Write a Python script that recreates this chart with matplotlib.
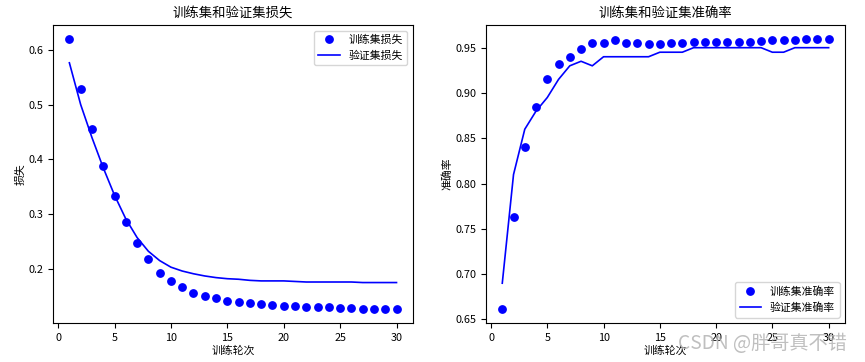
import matplotlib
matplotlib.use("Agg")
import matplotlib.pyplot as plt

plt.rcParams['font.family'] = ['Noto Sans CJK SC', 'DejaVu Sans']
plt.rcParams['axes.unicode_minus'] = False

epochs = list(range(1, 31))
train_loss = [0.620, 0.529, 0.455, 0.389, 0.334, 0.286, 0.248, 0.219, 0.194, 0.178,
              0.167, 0.157, 0.152, 0.147, 0.142, 0.141, 0.138, 0.137, 0.135, 0.133,
              0.133, 0.132, 0.131, 0.131, 0.130, 0.129, 0.128, 0.127, 0.127, 0.127]
val_loss = [0.576, 0.500, 0.440, 0.385, 0.335, 0.292, 0.258, 0.233, 0.216, 0.204,
            0.197, 0.192, 0.188, 0.185, 0.183, 0.182, 0.180, 0.179, 0.179, 0.179,
            0.178, 0.177, 0.177, 0.177, 0.177, 0.177, 0.176, 0.176, 0.176, 0.176]
train_acc = [0.661, 0.763, 0.8405, 0.885, 0.915, 0.932, 0.940, 0.9485, 0.955, 0.955,
             0.958, 0.955, 0.955, 0.954, 0.954, 0.955, 0.955, 0.956, 0.956, 0.956,
             0.956, 0.956, 0.956, 0.957, 0.958, 0.958, 0.958, 0.960, 0.960, 0.960]
val_acc = [0.690, 0.810, 0.860, 0.880, 0.895, 0.915, 0.930, 0.935, 0.930, 0.940,
           0.940, 0.940, 0.940, 0.940, 0.945, 0.945, 0.945, 0.950, 0.950, 0.950,
           0.950, 0.950, 0.950, 0.950, 0.945, 0.945, 0.950, 0.950, 0.950, 0.950]

fs = 7.8
fig = plt.figure(figsize=(8.65, 3.62), dpi=100)
ax1 = fig.add_axes([0.0613, 0.1077, 0.416, 0.823])
ax2 = fig.add_axes([0.5618, 0.1077, 0.415, 0.823])

ax1.plot(epochs, train_loss, 'bo', markersize=5.3, label='训练集损失')
ax1.plot(epochs, val_loss, 'b', linewidth=1.2, label='验证集损失')
ax1.set_title('训练集和验证集损失', fontsize=9.6)
ax1.set_xlabel('训练轮次', fontsize=fs, labelpad=2)
ax1.set_ylabel('损失', fontsize=fs, labelpad=2)
ax1.legend(fontsize=fs, loc='upper right')

ax2.plot(epochs, train_acc, 'bo', markersize=5.3, label='训练集准确率')
ax2.plot(epochs, val_acc, 'b', linewidth=1.2, label='验证集准确率')
ax2.set_title('训练集和验证集准确率', fontsize=9.6)
ax2.set_xlabel('训练轮次', fontsize=fs, labelpad=2)
ax2.set_ylabel('准确率', fontsize=fs, labelpad=2)
ax2.legend(fontsize=fs, loc='lower right')

for ax in (ax1, ax2):
    ax.tick_params(labelsize=fs)
    ax.set_xticks([0, 5, 10, 15, 20, 25, 30])
ax2.set_yticks([0.65, 0.70, 0.75, 0.80, 0.85, 0.90, 0.95])
ax2.set_yticklabels(['0.65', '0.70', '0.75', '0.80', '0.85', '0.90', '0.95'])

fig.text(0.784, 0.052, 'CSDN @胖哥真不错', fontsize=13.8, color='#b4b4b4',
         alpha=0.85, ha='left', va='center', zorder=10)

fig.savefig('out.png', dpi=100)
